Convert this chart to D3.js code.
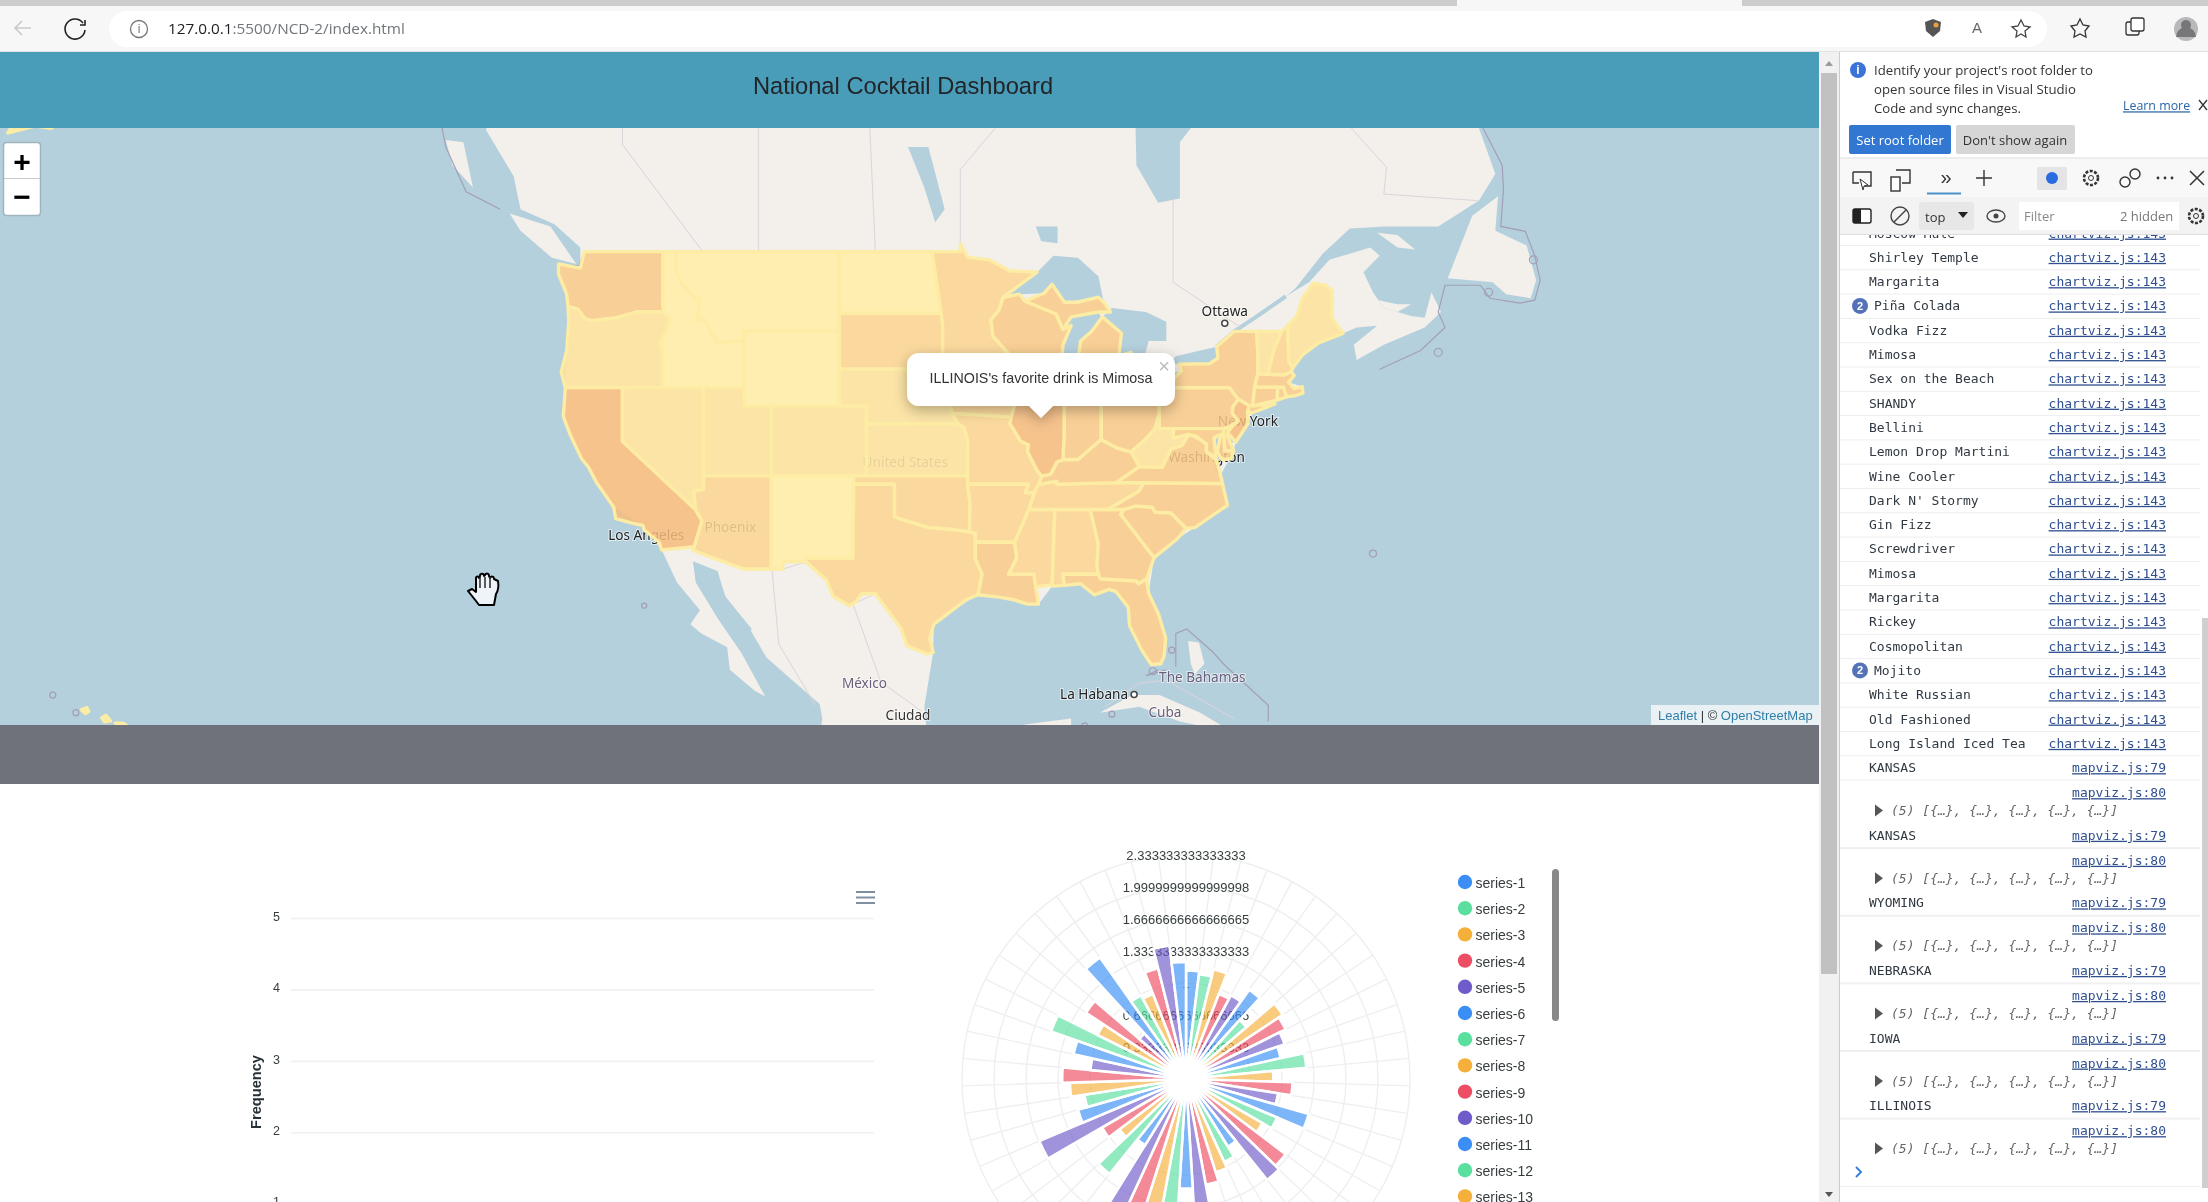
<!DOCTYPE html>
<html>
<head>
<meta charset="utf-8">
<title>National Cocktail Dashboard</title>
<script src="https://cdnjs.cloudflare.com/ajax/libs/d3/7.8.5/d3.min.js"></script>
<style>
  html, body { margin: 0; padding: 0; background: #fff; overflow: hidden; }
  svg { display: block; filter: blur(0.45px); }
  text { font-family: "Liberation Sans", Arial, sans-serif; }
  .mono { font-family: "DejaVu Sans Mono", monospace; font-size: 13px; }
  .ui { font-family: "Open Sans", "Noto Sans", sans-serif; }
  .place { font-family: "Noto Sans", "Open Sans", sans-serif; font-size: 13.6px; text-anchor: middle;
           paint-order: stroke; stroke: #fff; stroke-width: 2px; stroke-opacity: .6; }
</style>
</head>
<body>
<div id="page"></div>
<script>
// ---- polar area values, clockwise from the top
const polarValues = [1.13, 1.10, 1.18, 0.95, 0.99, 1.14, 0.83, 1.21, 1.16, 1.09, 1.01, 1.26, 0.91, 1.11, 0.97,
  1.33, 1.03, 0.92, 1.30, 1.35, 0.83, 0.95, 1.02, 1.12, 1.42, 1.14, 1.45, 1.50, 1.45, 1.60, 0.81, 1.27, 0.87,
  1.01, 1.66, 1.17, 1.07, 1.21, 1.29, 1.00, 1.20, 1.49, 1.03, 1.25, 0.64, 1.55, 0.99, 0.95, 1.19, 1.40, 1.22];
const polarTicks = ["0.3333333333333333", "0.6666666666666666", "1", "1.3333333333333333",
  "1.6666666666666665", "1.9999999999999998", "2.333333333333333"];
const polarColors = ["#3a8ef6", "#5adf9f", "#f5b03c", "#ee4e63", "#6f5bc9"];
const legendNames = ["series-1", "series-2", "series-3", "series-4", "series-5", "series-6", "series-7",
  "series-8", "series-9", "series-10", "series-11", "series-12", "series-13"];

// ---- frequency axis
const freqTicks = [1, 2, 3, 4, 5];

// ---- console rows
const drinkRows = ["Moscow Mule", "Shirley Temple", "Margarita", "Piña Colada", "Vodka Fizz", "Mimosa",
  "Sex on the Beach", "SHANDY", "Bellini", "Lemon Drop Martini", "Wine Cooler", "Dark N' Stormy", "Gin Fizz",
  "Screwdriver", "Mimosa", "Margarita", "Rickey", "Cosmopolitan", "Mojito", "White Russian", "Old Fashioned",
  "Long Island Iced Tea"];
const badgeRows = ["Piña Colada", "Mojito"];
const stateRows = ["KANSAS", "KANSAS", "WYOMING", "NEBRASKA", "IOWA", "ILLINOIS"];

// ---- map levels by state
const stateLevels = { WA:4, OR:2, CA:5, NV:2, ID:1, MT:1, WY:1, UT:2, AZ:3, CO:2, NM:1, ND:1, SD:3, NE:2, KS:2,
  OK:3, TX:3, MN:3, IA:3, MO:3, AR:3, LA:4, MS:3, AL:3, GA:4, FL:4, SC:4, NC:4, TN:3, KY:4, VA:4, WV:2, OH:4,
  IN:4, IL:5, WI:4, MI:4, MIU:4, PA:4, NY:4, NJ:5, DE:4, MD:4, CT:4, RI:4, MA:4, VT:2, NH:3, ME:2, AK:1,
  HI1:1, HI2:1, HI3:1 };

// ---- state outlines, lon/lat
const stateShapes = {
  WA: [[-124.7,48.4],[-123.1,48.2],[-122.8,49],[-117.03,49],[-117.04,46.4],[-116.92,46],[-118.98,46],[-119.3,45.93],[-120.5,45.7],[-121.2,45.65],[-122.2,45.55],[-122.75,45.65],[-123.3,46.15],[-124,46.27],[-124.1,46.9],[-124.7,47.9]],
  OR: [[-124,46.27],[-123.3,46.15],[-122.75,45.65],[-122.2,45.55],[-121.2,45.65],[-120.5,45.7],[-119.3,45.93],[-118.98,46],[-116.92,46],[-116.47,45.6],[-116.85,44.9],[-117.2,44.4],[-117.03,43.8],[-117.03,42],[-124.2,42],[-124.5,42.85],[-124.1,44],[-123.95,45.5]],
  CA: [[-124.2,42],[-120,42],[-120,39],[-114.63,35],[-114.15,34.3],[-114.72,32.72],[-117.12,32.53],[-117.3,33],[-118.4,33.75],[-118.5,34.03],[-119.2,34.15],[-120.5,34.45],[-120.65,35.15],[-121.9,36.6],[-122.5,37.5],[-123,38],[-123.8,39.3],[-124.35,40.4]],
  NV: [[-120,42],[-114.04,42],[-114.04,36.2],[-114.75,36.1],[-114.63,35],[-120,39]],
  ID: [[-117.03,49],[-116.05,49],[-116.05,48],[-115.7,47.5],[-114.7,46.7],[-114.35,46.65],[-114.5,45.6],[-113.9,45.6],[-113.45,44.9],[-113,44.45],[-111.05,44.5],[-111.05,42],[-117.03,42],[-117.03,43.8],[-117.2,44.4],[-116.85,44.9],[-116.47,45.6],[-116.92,46],[-117.04,46.4]],
  MT: [[-116.05,49],[-104.05,49],[-104.05,45],[-111.05,45],[-111.05,44.5],[-113,44.45],[-113.45,44.9],[-113.9,45.6],[-114.5,45.6],[-114.35,46.65],[-114.7,46.7],[-115.7,47.5],[-116.05,48]],
  WY: [[-111.05,45],[-104.05,45],[-104.05,41],[-111.05,41]],
  UT: [[-114.04,42],[-111.05,42],[-111.05,41],[-109.05,41],[-109.05,37],[-114.04,37]],
  AZ: [[-114.04,37],[-109.05,37],[-109.05,31.33],[-111.07,31.33],[-114.81,32.5],[-114.72,32.72],[-114.15,34.3],[-114.63,35],[-114.75,36.1],[-114.04,36.2]],
  CO: [[-109.05,41],[-102.05,41],[-102.05,37],[-109.05,37]],
  NM: [[-109.05,37],[-103,37],[-103.05,32],[-106.6,32],[-106.5,31.78],[-108.2,31.78],[-108.2,31.33],[-109.05,31.33]],
  ND: [[-104.05,49],[-97.23,49],[-96.56,45.94],[-104.05,45.94]],
  SD: [[-104.05,45.94],[-96.56,45.94],[-96.45,45.3],[-96.45,43.5],[-96.45,42.49],[-98.5,43],[-104.05,43]],
  NE: [[-104.05,43],[-98.5,43],[-96.45,42.49],[-95.9,41.3],[-95.31,40],[-102.05,40],[-102.05,41],[-104.05,41]],
  KS: [[-102.05,40],[-95.31,40],[-94.9,39.8],[-94.61,39.1],[-94.62,37],[-102.05,37]],
  OK: [[-103,37],[-94.62,37],[-94.62,36.5],[-94.43,35.4],[-94.48,33.64],[-96,33.8],[-97.5,33.9],[-99.5,34.4],[-100,34.56],[-100,36.5],[-103,36.5]],
  TX: [[-106.6,32],[-103.05,32],[-103,36.5],[-100,36.5],[-100,34.56],[-99.5,34.4],[-97.5,33.9],[-96,33.8],[-94.48,33.64],[-94.04,33.55],[-94.04,32],[-93.55,31],[-93.85,29.7],[-94.7,29.4],[-95.9,28.6],[-97.1,27.8],[-97.4,26.9],[-97.15,25.95],[-97.6,25.85],[-99.1,26.4],[-99.5,27.5],[-100.4,28.6],[-101.4,29.77],[-102.4,29.77],[-102.9,29.2],[-103.3,29],[-104.5,29.6],[-105,30.65],[-106.5,31.78]],
  MN: [[-97.23,49],[-95.15,49],[-95.15,49.38],[-94.6,48.72],[-93,48.6],[-91.5,48.06],[-89.5,48],[-92,46.75],[-92.3,46.1],[-92.9,45.6],[-92.75,44.75],[-91.2,43.5],[-96.45,43.5],[-96.45,45.3],[-96.56,45.94]],
  IA: [[-96.45,43.5],[-91.2,43.5],[-91.1,42.7],[-90.15,42],[-91.1,41.2],[-91.4,40.38],[-95.77,40.58],[-95.9,41.3],[-96.45,42.49]],
  MO: [[-95.77,40.58],[-91.4,40.38],[-91.5,40],[-90.7,39],[-90.15,38.8],[-90.2,38.4],[-89.5,37.3],[-89.15,36.98],[-89.4,36.5],[-89.7,36],[-90.37,36],[-90.15,36.5],[-94.62,36.5],[-94.62,37],[-94.61,39.1],[-94.9,39.8],[-95.31,40]],
  AR: [[-94.62,36.5],[-90.15,36.5],[-90.37,36],[-89.7,36],[-90.1,35],[-91.15,33],[-94.04,33],[-94.04,33.55],[-94.48,33.64],[-94.43,35.4]],
  LA: [[-94.04,33],[-91.15,33],[-91,32],[-91.6,31],[-89.73,31],[-89.6,30.2],[-89.4,29.1],[-90.2,29.1],[-91.3,29.4],[-92.3,29.55],[-93.85,29.7],[-93.55,31],[-94.04,32]],
  MS: [[-90.1,35],[-88.2,35],[-88.4,30.35],[-89.6,30.2],[-89.73,31],[-91.6,31],[-91,32],[-91.15,33]],
  AL: [[-88.2,35],[-85.6,35],[-85,32.9],[-85.1,31.55],[-85,31],[-87.6,31],[-87.5,30.3],[-88.4,30.25]],
  GA: [[-85.6,35],[-83.1,35],[-83.35,34.7],[-81.4,32.6],[-80.9,32.05],[-81.45,30.7],[-82.05,30.4],[-82.2,30.57],[-84.85,30.7],[-85,31],[-85.1,31.55],[-85,32.9]],
  FL: [[-87.6,31],[-85,31],[-84.85,30.7],[-82.2,30.57],[-82.05,30.4],[-81.45,30.7],[-81.3,29.8],[-80.55,28.4],[-80.05,26.9],[-80.15,25.75],[-80.4,25.2],[-81.1,25.15],[-81.8,26.1],[-82.7,27.7],[-82.8,28.9],[-83.7,29.9],[-84.2,30.05],[-85.3,29.7],[-86.3,30.4],[-87.5,30.3]],
  SC: [[-83.35,34.7],[-83.1,35],[-82.3,35.2],[-81.05,35.15],[-80.8,34.82],[-79.67,34.8],[-78.55,33.86],[-79.2,33.2],[-80.9,32.05],[-81.4,32.6]],
  NC: [[-84.32,35],[-83.1,35],[-82.3,35.2],[-81.05,35.15],[-80.8,34.82],[-79.67,34.8],[-78.55,33.86],[-77.9,33.9],[-76.5,34.7],[-75.5,35.25],[-75.87,36.55],[-81.68,36.59],[-82,36.1]],
  TN: [[-90.1,35],[-88.2,35],[-85.6,35],[-84.32,35],[-82,36.1],[-81.68,36.59],[-83.68,36.6],[-88.05,36.5],[-88.05,36.68],[-89.4,36.5],[-89.7,36]],
  KY: [[-89.4,36.5],[-88.05,36.68],[-88.05,36.5],[-83.68,36.6],[-81.97,37.54],[-82.6,38.4],[-83.65,38.63],[-84.8,39.1],[-85.4,38.7],[-86.5,37.95],[-87.6,37.95],[-88.05,37.8],[-88.5,37.1],[-89.15,36.98]],
  VA: [[-83.68,36.6],[-81.68,36.59],[-75.87,36.55],[-76,37],[-76.3,37.9],[-77.05,38.4],[-77.05,38.85],[-77.5,39.1],[-78.35,39.4],[-78.85,38.77],[-79.65,38.57],[-80.3,37.5],[-81.97,37.54]],
  WV: [[-81.97,37.54],[-80.3,37.5],[-79.65,38.57],[-78.85,38.77],[-78.35,39.4],[-77.8,39.3],[-77.75,39.6],[-79.48,39.2],[-79.48,39.72],[-80.52,39.72],[-80.52,40.6],[-80.85,39.7],[-81.7,39],[-82.6,38.4]],
  OH: [[-84.8,41.7],[-83.45,41.73],[-82.7,41.5],[-81.7,41.5],[-80.52,41.98],[-80.52,40.6],[-80.85,39.7],[-81.7,39],[-82.6,38.4],[-83.65,38.63],[-84.8,39.1]],
  IN: [[-87.52,41.7],[-86.8,41.76],[-84.8,41.7],[-84.8,39.1],[-85.4,38.7],[-86.5,37.95],[-87.6,37.95],[-87.52,39.35]],
  IL: [[-90.6,42.5],[-87.8,42.5],[-87.52,41.7],[-87.52,39.35],[-87.6,37.95],[-88.05,37.8],[-88.5,37.1],[-89.15,36.98],[-89.5,37.3],[-90.2,38.4],[-90.15,38.8],[-90.7,39],[-91.5,40],[-91.4,40.38],[-91.1,41.2],[-90.15,42]],
  WI: [[-92.75,44.75],[-92.9,45.6],[-92.3,46.1],[-92,46.75],[-90.8,46.9],[-90.4,46.55],[-88.1,45.9],[-87.6,45.1],[-87,45.3],[-87.6,44.3],[-87.8,42.5],[-90.6,42.5],[-91.1,42.7],[-91.2,43.5]],
  MI: [[-86.8,41.76],[-84.8,41.7],[-83.45,41.73],[-83.1,42.1],[-82.45,43],[-82.6,43.9],[-83.5,43.7],[-83.3,44.9],[-84.7,45.75],[-85.5,45],[-86.3,44.5],[-86.5,43.5],[-86.25,42.5]],
  MIU: [[-90.4,46.55],[-88.1,45.9],[-87.6,45.1],[-87,45.75],[-85,46],[-84.1,46],[-84.6,46.5],[-85,46.75],[-86.5,46.5],[-87.5,46.5],[-88.4,47.4],[-89,46.95]],
  PA: [[-80.52,41.98],[-79.76,42.27],[-79.76,42],[-75.35,42],[-74.7,41.36],[-75.1,40.95],[-75.15,40.6],[-74.7,40.15],[-75.4,39.8],[-75.8,39.72],[-80.52,39.72]],
  NY: [[-79.76,42.27],[-78.9,42.9],[-79.05,43.27],[-76.8,43.3],[-76.2,43.6],[-76.3,44.2],[-75,45],[-73.35,45],[-73.25,43.6],[-73.27,42.75],[-73.5,42.05],[-73.65,41],[-72,41.1],[-73.7,40.6],[-74.03,40.7],[-73.9,41],[-74.7,41.36],[-75.35,42],[-79.76,42]],
  NJ: [[-74.7,41.36],[-73.9,41],[-74.03,40.7],[-74,40],[-74.9,38.95],[-75.5,39.5],[-75.1,39.9],[-74.7,40.15],[-75.15,40.6],[-75.1,40.95]],
  DE: [[-75.8,39.72],[-75.4,39.8],[-75.5,39.3],[-75.05,38.45],[-75.7,38.45]],
  MD: [[-79.48,39.72],[-75.8,39.72],[-75.7,38.45],[-75.05,38.45],[-75.25,38],[-75.9,37.95],[-76.25,38.4],[-76,39.4],[-76.5,39.2],[-76.35,38.1],[-77.05,38.4],[-77.05,38.85],[-77.5,39.1],[-77.8,39.3],[-78.35,39.4],[-79.48,39.2]],
  CT: [[-73.5,42.05],[-71.8,42.02],[-71.85,41.32],[-73.65,41]],
  RI: [[-71.8,42.02],[-71.38,42.02],[-71.15,41.5],[-71.85,41.32]],
  MA: [[-73.27,42.75],[-71.3,42.7],[-70.8,42.87],[-70.6,42.65],[-71,42.3],[-70.6,41.95],[-70,42.05],[-69.95,41.7],[-70.6,41.55],[-71.15,41.5],[-71.38,42.02],[-73.5,42.05]],
  VT: [[-73.35,45],[-71.5,45],[-72.05,44.1],[-72.45,43],[-72.46,42.73],[-73.27,42.75],[-73.25,43.6]],
  NH: [[-71.5,45],[-71.08,45.3],[-70.98,43.4],[-70.7,43.07],[-70.8,42.87],[-71.3,42.7],[-72.46,42.73],[-72.45,43],[-72.05,44.1]],
  ME: [[-71.08,45.3],[-70.4,45.8],[-70,46.7],[-69.2,47.45],[-68.3,47.35],[-67.8,47.07],[-67.8,45.7],[-67,44.9],[-68.8,44.4],[-70,43.75],[-70.7,43.07],[-70.98,43.4]],
  AK: [[-165.2,54.4],[-163.2,54.7],[-162,54.6],[-160.5,55.3],[-159,56],[-160,55.9],[-163,55.2],[-164.8,54.8]],
  HI1: [[-159.8,22.1],[-159.4,22.25],[-159.25,22],[-159.5,21.85]],
  HI2: [[-158.3,21.55],[-158,21.72],[-157.65,21.35],[-158.1,21.28]],
  HI3: [[-157.3,21.2],[-156.7,21.17],[-156.3,20.9],[-156.6,20.6],[-157,20.9]]
};

// ---- base map land and water, lon/lat
const landMain = [[-130.5,57],[-60,57],[-57,54.6],[-55.8,52.6],[-57,51.4],[-60,50.2],[-64,50.2],[-66.5,50.1],[-68.5,48.9],[-70.5,47.2],[-71.2,46.8],[-69.5,47.5],[-68,48.6],[-65,49.2],[-64.3,48.8],[-65.5,48],[-64.8,47],[-64,46.2],[-62,45.8],[-61,45.7],[-60.5,47],[-59.8,46],[-61,45.2],[-64,44.3],[-66,43.5],[-66.2,44.3],[-64.5,45.3],[-66,45.2],[-67,44.9],[-68.8,44.4],[-70,43.75],[-70.7,43.07],[-70.8,42.87],[-70.6,42.65],[-71,42.3],[-70,42.05],[-69.95,41.7],[-71.15,41.5],[-72,41.25],[-72,41.1],[-73.7,40.6],[-74,40],[-74.9,38.95],[-75.05,38.45],[-75.9,37.2],[-76,37],[-75.5,35.25],[-76.5,34.7],[-77.9,33.9],[-79.2,33.2],[-80.9,32.05],[-81.3,29.8],[-80.55,28.4],[-80.05,26.9],[-80.15,25.75],[-80.4,25.2],[-81.1,25.15],[-81.8,26.1],[-82.7,27.7],[-82.8,28.9],[-83.7,29.9],[-84.2,30.05],[-85.3,29.7],[-86.3,30.4],[-88.4,30.25],[-89.4,29.1],[-90.2,29.1],[-91.3,29.4],[-93.85,29.7],[-95.9,28.6],[-97.1,27.8],[-97.15,25.95],[-97.8,22.3],[-97.6,20.5],[-96,19],[-105.7,19],[-105.3,21.5],[-105.5,22.5],[-109.4,25.6],[-110.9,27.9],[-112.8,30],[-113,31.2],[-114.8,31.8],[-114.6,30.5],[-113,28.2],[-111.3,26],[-109.5,23],[-110.3,23.4],[-112.1,24.8],[-112.3,26.3],[-114.2,27.2],[-115,27.8],[-114.3,28.7],[-116,30.5],[-117.12,32.53],[-118.5,34.03],[-120.65,35.15],[-122.5,37.5],[-124.35,40.4],[-124.1,44],[-124,46.27],[-124.7,48.4],[-123.1,48.2],[-123.1,49.2],[-125,50.3],[-127.5,51],[-128,52.5],[-130,54.5]];
const landIslands = [
  [[-59.3,47.7],[-57.5,50.7],[-55.6,51.6],[-55.8,50],[-53.5,49.3],[-52.8,47.6],[-53.2,46.7],[-55,46.9],[-56,47.5]],
  [[-64.5,49.9],[-63,49.8],[-61.7,49.1],[-63,49.2]],
  [[-64.4,46.6],[-63,46.4],[-62,46.4],[-63,46],[-64,46.2]],
  [[-128.3,50.8],[-125.3,50.2],[-123.4,48.4],[-125.2,48.7],[-127.5,50]],
  [[-133,54.1],[-131.7,54],[-131,52],[-132.5,53]],
  [[-91,17],[-90.4,21.1],[-87,21.5],[-87,17]],
  [[-84.9,21.9],[-82.5,23.1],[-80.5,23.1],[-77.5,21.9],[-75,20.5],[-79,21.3],[-82,22.3]],
  [[-78.4,26.7],[-77.6,26.6],[-77.2,25.2],[-77.9,24.5],[-78.2,25.2]]
];
const waterShapes = [
  [[-92,46.75],[-90.8,46.9],[-89,46.95],[-88.4,47.4],[-87.5,46.5],[-85,46.75],[-84.6,46.5],[-85,47.8],[-86.5,48.7],[-88.3,48.8],[-89.5,48]],
  [[-87.8,42.5],[-87.52,41.7],[-86.8,41.76],[-86.25,42.5],[-86.5,43.5],[-86.3,44.5],[-85.5,45],[-84.8,45.75],[-85,46],[-87,45.75],[-87.6,45.1],[-87,45.3],[-87.6,44.3]],
  [[-84.7,45.75],[-83.3,44.9],[-83.5,43.7],[-82.6,43.9],[-82.45,43],[-81.7,43.4],[-81.3,44.5],[-80,44.5],[-80,45.5],[-81.5,46],[-84,46.2]],
  [[-83.45,41.73],[-82.7,41.5],[-81.7,41.5],[-80.52,41.98],[-78.9,42.9],[-80,42.7],[-81.5,42.6],[-83.1,42.1]],
  [[-79.76,43.3],[-79.05,43.27],[-76.8,43.3],[-76.2,43.6],[-76.3,44.2],[-77.5,44],[-79.3,43.7]],
  [[-82.3,55.5],[-82.2,53],[-80.6,51.3],[-79,51.5],[-79,54],[-77,55.5]],
  [[-99,53.8],[-97.5,53.8],[-96.3,51],[-97,50.4],[-97.8,52]],
  [[-89.6,50.2],[-88,50.2],[-88,49.4],[-89.2,49.5]],
  [[-76.2,39.5],[-75.9,38.6],[-76.1,37],[-76.4,37.4],[-76.5,38.6]],
  [[-75.6,39.6],[-75.3,39.4],[-75,38.9],[-75.4,39]],
  [[-113,31.2],[-114.8,31.8],[-114.6,30.5],[-113,28.2],[-111.3,26],[-110.5,27.5],[-112.4,29.5]]
];
const riverLine = [[-76.3,44.2],[-75,45],[-73.5,45.7],[-71.2,46.8]];
const borderLines = [
  [[-120,57],[-120,53.9],[-114.1,49]],
  [[-110,57],[-110,49]],
  [[-102,57],[-101.4,49]],
  [[-95.15,49.38],[-95.15,52.8],[-89,57]],
  [[-79.5,51.5],[-79.5,47.5],[-74.5,45.2]],
  [[-57.1,51.4],[-64,51.7],[-63.8,52.9],[-67,55]],
  [[-117.12,32.53],[-114.72,32.72],[-111.07,31.33],[-108.2,31.33],[-106.5,31.78],[-105,30.65],[-103.3,29],[-101.4,29.77],[-99.5,27.5],[-97.15,25.95]],
  [[-109,31.3],[-108.5,26.5],[-105.8,22.4]],
  [[-103,29],[-101,24],[-98,22]],
  [[-84.5,22.3],[-82,23.9],[-80,24.1],[-75,21.5]]
];
const seaLines = [
  [[-56.7,54.6],[-55.3,53],[-55.2,51.9],[-55.4,50.2],[-53.6,49.97],[-52.9,48.8],[-52.5,47.6],[-52.9,46.6],[-54,46.45],[-56.2,46.7],[-56.9,47.35],[-59.5,47.35],[-60,46],[-59.5,45.2],[-61.3,44],[-64.3,43]],
  [[-79.3,25],[-79.3,27.2],[-78.5,27.5],[-76.6,26],[-75.7,25.1],[-72.5,22.4],[-72.5,21.3]],
  [[-80,24.8],[-81.5,24.4],[-80.6,24.8]],
  [[-133.4,55],[-133,53.8],[-131.5,51.8],[-129,51]],
  [[-122.8,49],[-123.2,48.3],[-124.8,48.4]]
];
const islets = [[-64.8,32.3,3.5],[-56.3,47,4],[-60,43.9,4],[-118.4,29,2.5],[-118.5,33.4,2.5],[-112.3,18.9,3],[-84,21.8,3],[-86,21,3],[-170,23.8,3],[-167,23.9,3],[-161.9,23.1,3],[-160.2,21.9,3],[-53,48.6,4],[-81,24.7,3.5],[-79.6,26.1,3],[-171,25,3.5],[-83,19.3,3]];

// ---- place names on the tiles
const placeNames = [
  { name: "Ottawa", lon: -75.7, lat: 45.42, dy: -12, color: "#222", dot: true },
  { name: "New York", lon: -74, lat: 40.7, dy: 10, color: "#222" },
  { name: "Washington", lon: -77.04, lat: 38.9, dy: 14, color: "#222" },
  { name: "Los Angeles", lon: -118.25, lat: 34.05, dy: 10, color: "#222" },
  { name: "Phoenix", lon: -112.07, lat: 33.45, dy: -8, color: "#333" },
  { name: "United States", lon: -99.2, lat: 37.8, dy: 0, color: "#6a5f7a" },
  { name: "México", lon: -102.2, lat: 23.9, dy: 0, color: "#6a5f7a" },
  { name: "The Bahamas", lon: -77.35, lat: 24.3, dy: 0, color: "#6a5f7a" },
  { name: "Cuba", lon: -80.1, lat: 21.9, dy: 0, color: "#6a5f7a" },
  { name: "Ciudad", lon: -99, lat: 21.7, dy: 0, color: "#333" },
  { name: "La Habana", lon: -82.37, lat: 23.13, dy: 0, dx: -40, color: "#222", dot: true }
];

const width = 2208, height = 1202;
const svg = d3.select("#page").append("svg").attr("width", width).attr("height", height);
svg.append("rect").attr("width", width).attr("height", height).attr("fill", "#fff");

// map ------------------------------------------------------------------
const projection = d3.geoMercator().scale(779).translate([2254, 1018]);
const geoLine = d3.line().x(d => projection(d)[0]).y(d => projection(d)[1]);

svg.append("clipPath").attr("id", "mapClip").append("rect")
  .attr("x", 0).attr("y", 128).attr("width", 1819).attr("height", 597);
const map = svg.append("g").attr("clip-path", "url(#mapClip)");
map.append("rect").attr("x", 0).attr("y", 128).attr("width", 1819).attr("height", 597).attr("fill", "#b5d0dd");

map.selectAll(".land").data([landMain].concat(landIslands)).join("path")
  .attr("class", "land").attr("d", d => geoLine(d) + "Z").attr("fill", "#f3efea");
map.selectAll(".water").data(waterShapes).join("path")
  .attr("class", "water").attr("d", d => geoLine(d) + "Z").attr("fill", "#b5d0dd");
map.append("path").attr("d", geoLine(riverLine)).attr("fill", "none").attr("stroke", "#b5d0dd").attr("stroke-width", 4);
map.selectAll(".border").data(borderLines).join("path")
  .attr("class", "border").attr("d", d => geoLine(d)).attr("fill", "none")
  .attr("stroke", "#dcd4da").attr("stroke-width", 1);
map.selectAll(".sea").data(seaLines).join("path")
  .attr("class", "sea").attr("d", d => geoLine(d)).attr("fill", "none")
  .attr("stroke", "#a39fb8").attr("stroke-width", 1.2);
map.selectAll(".islet").data(islets).join("circle")
  .attr("class", "islet")
  .attr("cx", d => projection(d)[0]).attr("cy", d => projection(d)[1]).attr("r", d => d[2])
  .attr("fill", "none").attr("stroke", "#a39fb8").attr("stroke-width", 1.2);

const places = map.selectAll(".placeName").data(placeNames).join("g").attr("class", "placeName")
  .attr("transform", d => "translate(" + projection([d.lon, d.lat]) + ")");
places.append("text").attr("class", "place")
  .attr("x", d => d.dx || 0).attr("y", d => d.dy).attr("dy", "0.35em")
  .attr("fill", d => d.color).text(d => d.name);
places.filter(d => d.dot).append("circle").attr("r", 3).attr("fill", "#fff")
  .attr("stroke", "#444").attr("stroke-width", 1.5);

// choropleth: level -> colour
const levelColor = d3.scaleLinear().domain([1, 5]).range(["#ffeea6", "#f6bc7e"]);
map.selectAll(".state").data(Object.keys(stateShapes)).join("path")
  .attr("class", "state")
  .attr("d", d => geoLine(stateShapes[d]) + "Z")
  .attr("fill", d => levelColor(stateLevels[d])).attr("fill-opacity", 0.86)
  .attr("stroke", "#fdeca4").attr("stroke-width", 3.4).attr("stroke-linejoin", "round");

// header bands
svg.append("rect").attr("x", 0).attr("y", 52).attr("width", 1819).attr("height", 76).attr("fill", "#4a9db8");
svg.append("text").attr("x", 903).attr("y", 86).attr("dy", "0.35em").attr("text-anchor", "middle")
  .attr("font-size", 23.7).attr("fill", "#212529").text("National Cocktail Dashboard");
svg.append("rect").attr("x", 0).attr("y", 725).attr("width", 1819).attr("height", 59).attr("fill", "#6f727b");

// zoom buttons
svg.append("rect").attr("x", 3.5).attr("y", 142.5).attr("width", 37).attr("height", 73).attr("rx", 3)
  .attr("fill", "#fff").attr("stroke", "#9fb4bd").attr("stroke-width", 1.5);
svg.append("line").attr("x1", 4).attr("x2", 40).attr("y1", 178.5).attr("y2", 178.5).attr("stroke", "#ccc");
svg.append("text").attr("x", 22).attr("y", 161).attr("dy", "0.35em").attr("text-anchor", "middle")
  .attr("font-size", 30).attr("font-weight", 700).attr("fill", "#000").text("+");
svg.append("text").attr("x", 22).attr("y", 196).attr("dy", "0.35em").attr("text-anchor", "middle")
  .attr("font-size", 30).attr("font-weight", 700).attr("fill", "#000").text("−");

// attribution
svg.append("rect").attr("x", 1651).attr("y", 705).attr("width", 168).attr("height", 20).attr("fill", "#fff").attr("fill-opacity", .7);
const attr = svg.append("text").attr("x", 1658).attr("y", 715).attr("dy", "0.35em").attr("font-size", 13).attr("fill", "#333");
attr.append("tspan").attr("fill", "#2f7fa8").text("Leaflet");
attr.append("tspan").text(" | © ");
attr.append("tspan").attr("fill", "#2f7fa8").text("OpenStreetMap");

// popup
const popup = svg.append("g").attr("transform", "translate(1041,0)");
const popDefs = svg.append("filter").attr("id", "popShadow").attr("x", "-20%").attr("y", "-30%").attr("width", "140%").attr("height", "170%");
popDefs.append("feDropShadow").attr("dx", 0).attr("dy", 4).attr("stdDeviation", 7).attr("flood-color", "#000").attr("flood-opacity", .3);
popup.append("path").attr("filter", "url(#popShadow)").attr("fill", "#fff")
  .attr("d", "M-122,353H122a12,12 0 0 1 12,12V394a12,12 0 0 1 -12,12H12L0,418L-12,406H-122a12,12 0 0 1 -12,-12V365a12,12 0 0 1 12,-12Z");
popup.append("text").attr("y", 378).attr("dy", "0.35em").attr("text-anchor", "middle")
  .attr("font-size", 14.3).attr("fill", "#333").text("ILLINOIS's favorite drink is Mimosa");
popup.append("text").attr("x", 123).attr("y", 366).attr("dy", "0.35em").attr("text-anchor", "middle")
  .attr("font-size", 20).attr("fill", "#bbb").text("×");

// hand cursor
svg.append("path").attr("transform", "translate(467,573)")
  .attr("d", "M1,18L5,16L9,19L9,5C9,3 12,3 12,5L13,3C13,0 17,0 17,3L18,2C19,0 22,0 22,3L23,5C24,3 27,3 27,6L31,8C32,14 31,18 29,21L27,32L12,32L9,28Z")
  .attr("fill", "#eff4fb").attr("stroke", "#000").attr("stroke-width", 2).attr("stroke-linejoin", "round");
svg.append("g").attr("transform", "translate(467,573)").selectAll("line").data([13, 18, 23]).join("line")
  .attr("x1", d => d).attr("x2", d => d).attr("y1", 4).attr("y2", 15).attr("stroke", "#333").attr("stroke-width", 1.6);

// frequency chart ------------------------------------------------------
const freqY = d3.scaleLinear().domain([1, 5]).range([1203.7, 918]);
const freqAxis = d3.axisLeft(freqY).tickValues(freqTicks).tickFormat(d3.format("d")).tickSize(-583).tickPadding(11);
const freqG = svg.append("g").attr("transform", "translate(291,0)").call(freqAxis);
freqG.select(".domain").remove();
freqG.selectAll(".tick line").attr("stroke", "#f0f0f4").attr("stroke-width", 1.6);
freqG.selectAll(".tick text").attr("font-size", 12.5).attr("font-family", "Liberation Sans").attr("fill", "#373d3f").attr("y", -1.8);
svg.append("text").attr("transform", "translate(256,1092) rotate(-90)").attr("dy", "0.35em")
  .attr("text-anchor", "middle").attr("font-size", 14.6).attr("font-weight", 700).attr("fill", "#263238").text("Frequency");
svg.append("g").selectAll("line").data([892, 897.5, 903]).join("line")
  .attr("x1", 856).attr("x2", 875).attr("y1", d => d).attr("y2", d => d)
  .attr("stroke", "#7f8fa0").attr("stroke-width", 2);

// polar area chart -----------------------------------------------------
const polar = svg.append("g").attr("transform", "translate(1186,1079)");
const rScale = d3.scaleLinear().domain([0, +polarTicks[polarTicks.length - 1]]).range([0, 224]);
const sliceAngle = d3.scaleLinear().domain([0, polarValues.length]).range([0, 2 * Math.PI]);

polar.selectAll(".ring").data(polarTicks).join("circle").attr("class", "ring")
  .attr("r", d => rScale(+d)).attr("fill", "none").attr("stroke", "#efeff1").attr("stroke-width", 1.4);
polar.selectAll(".spoke").data(polarValues).join("line").attr("class", "spoke")
  .attr("x2", (d, i) => 224 * Math.sin(sliceAngle(i)))
  .attr("y2", (d, i) => -224 * Math.cos(sliceAngle(i)))
  .attr("stroke", "#efeff1").attr("stroke-width", 1.4);
polar.selectAll(".tickLabel").data(polarTicks).join("text").attr("class", "tickLabel")
  .attr("y", d => -rScale(+d)).attr("dy", "0.35em").attr("text-anchor", "middle")
  .attr("font-size", 13).attr("fill", "#373d3f").text(d => d);

const arc = d3.arc().innerRadius(0);
polar.selectAll(".slice").data(polarValues).join("path").attr("class", "slice")
  .attr("d", (d, i) => arc({ outerRadius: rScale(d), startAngle: sliceAngle(i), endAngle: sliceAngle(i + 1) }))
  .attr("fill", (d, i) => polarColors[i % polarColors.length]).attr("fill-opacity", 0.66)
  .attr("stroke", "#fff").attr("stroke-width", 2.6);

// legend
const legendY = d3.scaleLinear().domain([0, 1]).range([882, 908.2]);
const legend = svg.append("g");
legend.selectAll("circle").data(legendNames).join("circle")
  .attr("cx", 1465).attr("cy", (d, i) => legendY(i)).attr("r", 7.2)
  .attr("fill", (d, i) => polarColors[i % polarColors.length]);
legend.selectAll("text").data(legendNames).join("text")
  .attr("x", 1475.5).attr("y", (d, i) => legendY(i) + 1).attr("dy", "0.35em")
  .attr("font-size", 14).attr("fill", "#373d3f").text(d => d);
svg.append("rect").attr("x", 1552).attr("y", 869).attr("width", 7).attr("height", 152).attr("rx", 3.5).attr("fill", "#888");

// page scrollbar -------------------------------------------------------
svg.append("rect").attr("x", 1819).attr("y", 52).attr("width", 21).attr("height", 1150).attr("fill", "#f1f1f1");
svg.append("rect").attr("x", 1821).attr("y", 73).attr("width", 16).attr("height", 901).attr("fill", "#c1c1c1");
svg.append("path").attr("d", "M1825,66L1829,61L1833,66Z").attr("fill", "#9a9a9a");
svg.append("path").attr("d", "M1825,1192L1829,1197L1833,1192Z").attr("fill", "#555");
svg.append("line").attr("x1", 1839.5).attr("x2", 1839.5).attr("y1", 52).attr("y2", 1202).attr("stroke", "#ccc");

// browser chrome -------------------------------------------------------
svg.append("rect").attr("width", width).attr("height", 52).attr("fill", "#f8f7f8");
svg.append("rect").attr("width", 1457).attr("height", 6).attr("fill", "#cdcccd");
svg.append("rect").attr("x", 1742).attr("width", 466).attr("height", 6).attr("fill", "#cdcccd");
svg.append("rect").attr("x", 109).attr("y", 11).attr("width", 1938).attr("height", 36).attr("rx", 18).attr("fill", "#fff");
svg.append("line").attr("x1", 0).attr("x2", width).attr("y1", 51.5).attr("y2", 51.5).attr("stroke", "#e2e2e4");
svg.append("path").attr("d", "M31,28H15M22,21L15,28L22,35").attr("fill", "none").attr("stroke", "#c9c9cc").attr("stroke-width", 1.6);
svg.append("path").attr("d", "M83,23A10,10 0 1 0 85,30M85,20V25H80").attr("fill", "none").attr("stroke", "#222").attr("stroke-width", 1.6);
svg.append("circle").attr("cx", 139).attr("cy", 29).attr("r", 8.5).attr("fill", "none").attr("stroke", "#777").attr("stroke-width", 1.3);
svg.append("text").attr("x", 139).attr("y", 29).attr("dy", "0.35em").attr("text-anchor", "middle").attr("font-size", 12).attr("fill", "#777").text("i");
const addr = svg.append("text").attr("class", "ui").attr("x", 168).attr("y", 29).attr("dy", "0.35em").attr("font-size", 15.3).attr("fill", "#70757a");
addr.append("tspan").attr("fill", "#202124").text("127.0.0.1");
addr.append("tspan").text(":5500/NCD-2/index.html");
// toolbar glyphs
svg.append("path").attr("d", "M1925,22L1933,19L1941,22L1940,31L1933,37L1926,31Z").attr("fill", "#555");
svg.append("circle").attr("cx", 1936).attr("cy", 25).attr("r", 2.5).attr("fill", "#e9a23b");
svg.append("text").attr("x", 1977).attr("y", 28).attr("dy", "0.35em").attr("text-anchor", "middle").attr("font-size", 15).attr("fill", "#666").text("A");
svg.append("path").attr("d", "M2021,20L2024,26L2030,27L2025,31L2026,37L2021,34L2016,37L2017,31L2012,27L2018,26Z").attr("fill", "none").attr("stroke", "#444").attr("stroke-width", 1.3);
svg.append("path").attr("d", "M2080,19L2083,25L2089,26L2085,31L2086,37L2080,34L2074,37L2075,31L2071,26L2077,25Z").attr("fill", "none").attr("stroke", "#333").attr("stroke-width", 1.3);
svg.append("rect").attr("x", 2126).attr("y", 22).attr("width", 13).attr("height", 13).attr("rx", 2).attr("fill", "none").attr("stroke", "#333").attr("stroke-width", 1.3);
svg.append("rect").attr("x", 2131).attr("y", 18).attr("width", 13).attr("height", 13).attr("rx", 2).attr("fill", "#fff").attr("stroke", "#333").attr("stroke-width", 1.3);
svg.append("circle").attr("cx", 2186).attr("cy", 29).attr("r", 12).attr("fill", "#b9b9bc");
svg.append("circle").attr("cx", 2186).attr("cy", 25).attr("r", 5).attr("fill", "#77777b");
svg.append("path").attr("d", "M2176,37A10,10 0 0 1 2196,37Z").attr("fill", "#77777b");

// devtools -------------------------------------------------------------
const tools = svg.append("g");
tools.append("circle").attr("cx", 1858).attr("cy", 70).attr("r", 8).attr("fill", "#3b73d9");
tools.append("text").attr("x", 1858).attr("y", 70).attr("dy", "0.35em").attr("text-anchor", "middle").attr("font-size", 12).attr("font-weight", 700).attr("fill", "#fff").text("i");
tools.selectAll(".notice").data(["Identify your project's root folder to", "open source files in Visual Studio", "Code and sync changes."]).join("text")
  .attr("class", "notice ui").attr("x", 1874).attr("y", (d, i) => 70 + i * 19.2).attr("dy", "0.35em")
  .attr("font-size", 13.2).attr("fill", "#333").text(d => d);
tools.append("text").attr("class", "ui").attr("x", 2123).attr("y", 106).attr("dy", "0.35em").attr("font-size", 12.4)
  .attr("fill", "#2a66a8").attr("text-decoration", "underline").text("Learn more");
tools.append("path").attr("d", "M2199,100L2207,110M2207,100L2199,110").attr("stroke", "#333").attr("stroke-width", 1.3);
tools.append("rect").attr("x", 1849).attr("y", 125).attr("width", 102).attr("height", 29).attr("rx", 2).attr("fill", "#3277d1");
tools.append("text").attr("class", "ui").attr("x", 1900).attr("y", 140).attr("dy", "0.35em").attr("text-anchor", "middle").attr("font-size", 13).attr("fill", "#fff").text("Set root folder");
tools.append("rect").attr("x", 1956).attr("y", 125).attr("width", 119).attr("height", 29).attr("rx", 2).attr("fill", "#d6d6d6");
tools.append("text").attr("class", "ui").attr("x", 2015).attr("y", 140).attr("dy", "0.35em").attr("text-anchor", "middle").attr("font-size", 13).attr("fill", "#333").text("Don't show again");
tools.append("rect").attr("x", 1840).attr("y", 158).attr("width", 368).attr("height", 39).attr("fill", "#f8f8f8");
tools.append("rect").attr("x", 1840).attr("y", 197).attr("width", 368).attr("height", 38).attr("fill", "#f3f3f3");
tools.append("rect").attr("x", 2019).attr("y", 202).attr("width", 160).attr("height", 28).attr("fill", "#fff");
tools.append("line").attr("x1", 1840).attr("x2", 2208).attr("y1", 158).attr("y2", 158).attr("stroke", "#ddd");
tools.append("line").attr("x1", 1840).attr("x2", 2208).attr("y1", 234.5).attr("y2", 234.5).attr("stroke", "#ddd");
tools.append("path").attr("d", "M1853,172H1871V186H1862M1853,172V183H1859").attr("fill", "none").attr("stroke", "#333").attr("stroke-width", 1.4);
tools.append("path").attr("d", "M1860,179L1868,185L1864,186L1863,190Z").attr("fill", "#fff").attr("stroke", "#333");
tools.append("rect").attr("x", 1891).attr("y", 177).attr("width", 9).attr("height", 14).attr("fill", "#fff").attr("stroke", "#333").attr("stroke-width", 1.4);
tools.append("path").attr("d", "M1896,170H1910V183H1902").attr("fill", "none").attr("stroke", "#333").attr("stroke-width", 1.4);
tools.append("text").attr("x", 1946).attr("y", 177).attr("dy", "0.35em").attr("text-anchor", "middle").attr("font-size", 20).attr("fill", "#333").text("»");
tools.append("rect").attr("x", 1927).attr("y", 192.5).attr("width", 34).attr("height", 2).attr("fill", "#4a90c8");
tools.append("path").attr("d", "M1984,170V186M1976,178H1992").attr("stroke", "#333").attr("stroke-width", 1.4);
tools.append("rect").attr("x", 2037).attr("y", 167).attr("width", 30).attr("height", 23).attr("rx", 2).attr("fill", "#e4e4e6");
tools.append("circle").attr("cx", 2052).attr("cy", 178).attr("r", 6).attr("fill", "#2b6be0");
tools.selectAll(".gear").data([[2091, 178], [2196, 216]]).join("circle").attr("class", "gear")
  .attr("cx", d => d[0]).attr("cy", d => d[1]).attr("r", 7).attr("fill", "none").attr("stroke", "#333").attr("stroke-width", 2.6).attr("stroke-dasharray", "3 1.5");
tools.selectAll(".gearHole").data([[2091, 178], [2196, 216]]).join("circle").attr("class", "gearHole")
  .attr("cx", d => d[0]).attr("cy", d => d[1]).attr("r", 2.5).attr("fill", "none").attr("stroke", "#333");
tools.append("circle").attr("cx", 2125).attr("cy", 182).attr("r", 5).attr("fill", "none").attr("stroke", "#333").attr("stroke-width", 1.4);
tools.append("circle").attr("cx", 2135).attr("cy", 174).attr("r", 5).attr("fill", "none").attr("stroke", "#333").attr("stroke-width", 1.4);
tools.selectAll(".dot3").data([2158, 2165, 2172]).join("circle").attr("class", "dot3").attr("cx", d => d).attr("cy", 178).attr("r", 1.4).attr("fill", "#333");
tools.append("path").attr("d", "M2190,171L2204,185M2204,171L2190,185").attr("stroke", "#333").attr("stroke-width", 1.5);
tools.append("rect").attr("x", 1853).attr("y", 209).attr("width", 18).attr("height", 14).attr("rx", 2).attr("fill", "#fff").attr("stroke", "#222").attr("stroke-width", 1.4);
tools.append("rect").attr("x", 1853).attr("y", 209).attr("width", 8).attr("height", 14).attr("fill", "#222");
tools.append("circle").attr("cx", 1900).attr("cy", 216).attr("r", 9).attr("fill", "none").attr("stroke", "#444").attr("stroke-width", 1.4);
tools.append("line").attr("x1", 1894).attr("x2", 1906).attr("y1", 222).attr("y2", 210).attr("stroke", "#444").attr("stroke-width", 1.4);
tools.append("rect").attr("x", 1919).attr("y", 202).attr("width", 55).attr("height", 28).attr("rx", 3).attr("fill", "#e7e7e7");
tools.append("text").attr("class", "ui").attr("x", 1925).attr("y", 217).attr("dy", "0.35em").attr("font-size", 13).attr("fill", "#333").text("top");
tools.append("path").attr("d", "M1958,212H1968L1963,218Z").attr("fill", "#222");
tools.append("ellipse").attr("cx", 1996).attr("cy", 216).attr("rx", 9).attr("ry", 6).attr("fill", "none").attr("stroke", "#444").attr("stroke-width", 1.4);
tools.append("circle").attr("cx", 1996).attr("cy", 216).attr("r", 2.5).attr("fill", "#444");
tools.append("text").attr("class", "ui").attr("x", 2024).attr("y", 216).attr("dy", "0.35em").attr("font-size", 13).attr("fill", "#888").text("Filter");
tools.append("text").attr("class", "ui").attr("x", 2120).attr("y", 216).attr("dy", "0.35em").attr("font-size", 13).attr("fill", "#777").text("2 hidden");

// console rows
svg.append("clipPath").attr("id", "consoleClip").append("rect").attr("x", 1840).attr("y", 235).attr("width", 368).attr("height", 967);
const consoleG = svg.append("g").attr("clip-path", "url(#consoleClip)");
const rowY = d3.scaleLinear().domain([0, 1]).range([233, 257.3]);
const rows = [];
drinkRows.forEach((d, i) => rows.push({ text: d, link: "chartviz.js:143", y: rowY(i), badge: badgeRows.includes(d) }));
const firstState = rowY(drinkRows.length);
stateRows.forEach((d, i) => {
  const y = firstState + i * 67.6;
  rows.push({ text: d, link: "mapviz.js:79", y: y });
  rows.push({ text: "", link: "mapviz.js:80", y: y + 25, arr: true });
});
const row = consoleG.selectAll(".row").data(rows).join("g").attr("class", "row")
  .attr("transform", d => "translate(0," + d.y + ")");
row.append("line").attr("x1", 1840).attr("x2", 2200).attr("y1", d => d.arr ? 56 : 12.5).attr("y2", d => d.arr ? 56 : 12.5).attr("stroke", "#eee");
row.append("text").attr("class", "mono").attr("x", d => d.badge ? 1874 : 1869).attr("dy", "0.35em").attr("fill", "#303942").text(d => d.text);
row.append("text").attr("class", "mono").attr("x", 2166).attr("dy", "0.35em").attr("text-anchor", "end")
  .attr("fill", "#2f4f8f").attr("text-decoration", "underline").text(d => d.link);
row.filter(d => d.badge).append("circle").attr("cx", 1860).attr("r", 8).attr("fill", "#5472b8");
row.filter(d => d.badge).append("text").attr("x", 1860).attr("dy", "0.35em").attr("text-anchor", "middle")
  .attr("font-size", 11).attr("font-weight", 700).attr("fill", "#fff").text("2");
row.filter(d => d.arr).append("path").attr("d", "M1875,12L1883,18L1875,24Z").attr("fill", "#555");
row.filter(d => d.arr).append("text").attr("class", "mono").attr("x", 1891).attr("y", 18).attr("dy", "0.35em")
  .attr("font-style", "italic").attr("fill", "#666").text("(5) [{…}, {…}, {…}, {…}, {…}]");
consoleG.append("path").attr("d", "M1856,1167L1861,1172L1856,1177").attr("fill", "none").attr("stroke", "#3b7fd9").attr("stroke-width", 2);
svg.append("rect").attr("x", 2202).attr("y", 618).attr("width", 6).attr("height", 570).attr("fill", "#cfcfcf");
</script>
</body>
</html>
